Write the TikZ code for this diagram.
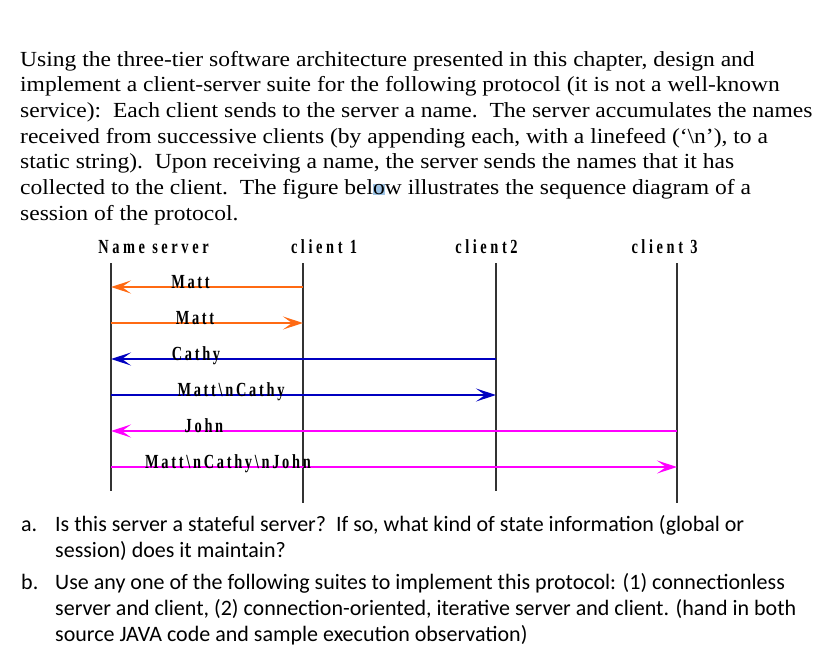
\documentclass[tikz,border=0pt]{standalone}
\usepackage{fontspec}
\setmainfont{Liberation Serif}[FakeStretch=1.095]
\newfontfamily\calib{Carlito}
\newfontfamily\diagfont{Liberation Serif}[FakeStretch=0.72,LetterSpace=13.5]
\newfontfamily\headfont{Liberation Serif}[FakeStretch=0.72,LetterSpace=18]
\usetikzlibrary{arrows.meta}
\definecolor{orangeA}{HTML}{FF6A13}
\definecolor{blueA}{HTML}{0000C0}
\definecolor{magA}{HTML}{FF00FF}
\definecolor{lifeC}{HTML}{333333}
\definecolor{hl}{HTML}{9CC3E6}
\begin{document}
\begin{tikzpicture}[x=1pt,y=-1pt,
  para/.style={anchor=base west,inner sep=0pt,font=\fontsize{21.5}{26}\selectfont},
  qtext/.style={anchor=base west,inner sep=0pt,font=\calib\fontsize{22}{26}\selectfont},
  head/.style={anchor=base,inner sep=0pt,font=\headfont\bfseries\fontsize{20}{22}\selectfont},
  lbl/.style={anchor=base,inner sep=0pt,font=\diagfont\bfseries\fontsize{20}{22}\selectfont},
  life/.style={draw=lifeC,line width=1.3pt},
  msg/.style={line width=1.4pt,-{Stealth[length=20pt,width=13pt,inset=9pt]}}
]
\useasboundingbox (0,0) rectangle (832,662);
% paragraph
\node[para] (p1) at (20,66) {Using the three-tier software architecture presented in this chapter, design and};
\node[para] (p2) at (20,91.7) {implement a client-server suite for the following protocol (it is not a well-known};
\node[para] (p3) at (20,117.3) {service):\ \ Each client sends to the server a name.\ \ The server accumulates the names};
\node[para] (p4) at (20,143) {received from successive clients (by appending each, with a linefeed (‘\textbackslash n’), to a};
\node[para] (p5) at (20,168.7) {static string).\ \ Upon receiving a name, the server sends the names that it has};
\node[para] (p6) at (20,194.3) {collected to the client.\ \ The figure bel{\setlength\fboxsep{0pt}\colorbox{hl}{o}}w illustrates the sequence diagram of a};
\node[para] (p7) at (20,220) {session of the protocol.};
% headers
\node[head] (hs) at (153.5,253) {Name server};
\node[head] (h1) at (324,253) {client 1};
\node[head] (h2) at (486.5,253) {client2};
\node[head] (h3) at (664.5,253) {client 3};
% lifelines
\coordinate (s0) at (111,263); \coordinate (s9) at (111,491);
\coordinate (a0) at (303,263); \coordinate (a9) at (303,503);
\coordinate (b0) at (496,263); \coordinate (b9) at (496,491);
\coordinate (c0) at (677,263); \coordinate (c9) at (677,503);
\draw[life] (s0) -- (s9);
\draw[life] (a0) -- (a9);
\draw[life] (b0) -- (b9);
\draw[life] (c0) -- (c9);
% message endpoints
\coordinate (s1) at (111,287); \coordinate (a1) at (303,287);
\coordinate (s2) at (111,323); \coordinate (a2) at (303,323);
\coordinate (s3) at (111,359); \coordinate (b3) at (496,359);
\coordinate (s4) at (111,395); \coordinate (b4) at (496,395);
\coordinate (s5) at (111,431); \coordinate (c5) at (677,431);
\coordinate (s6) at (111,467); \coordinate (c6) at (677,467);
\draw[msg,orangeA] (a1) -- (s1);
\draw[msg,orangeA] (s2) -- (a2);
\draw[msg,blueA] (b3) -- (s3);
\draw[msg,blueA] (s4) -- (b4);
\draw[msg,magA] (c5) -- (s5);
\draw[msg,magA] (s6) -- (c6);
% labels
\node[lbl] (l1) at (190.5,288) {Matt};
\node[lbl] (l2) at (195,324) {Matt};
\node[lbl] (l3) at (196,360) {Cathy};
\node[lbl] (l4) at (231,396) {Matt\textbackslash nCathy};
\node[lbl] (l5) at (204,432) {John};
\node[lbl] (l6) at (228,468) {Matt\textbackslash nCathy\textbackslash nJohn};
% questions
\node[qtext] (qa) at (21,531) {a.};
\node[qtext] (qa1) at (55,531) {Is this server a stateful server?\ \ If so, what kind of state information (global or};
\node[qtext] (qa2) at (55,557) {session) does it maintain?};
\node[qtext] (qb) at (21,589) {b.};
\node[qtext] (qb1) at (55,589) {Use any one of the following suites to implement this protocol: (1) connectionless};
\node[qtext] (qb2) at (55,615) {server and client, (2) connection-oriented, iterative server and client. (hand in both};
\node[qtext] (qb3) at (55,641) {source JAVA code and sample execution observation)};
\end{tikzpicture}
\end{document}
